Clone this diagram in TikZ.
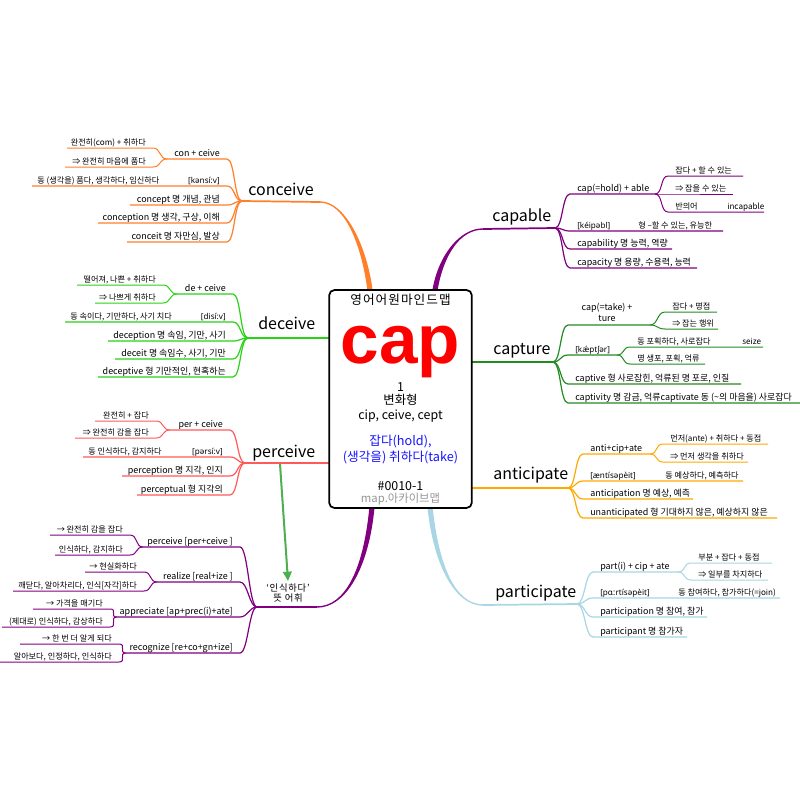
\documentclass[tikz,border=0pt]{standalone}
\usepackage{fontspec}
\setmainfont{Noto Sans CJK KR}
\newfontfamily\ipaf{Noto Sans}
\newfontfamily\capf{Liberation Sans}
\usetikzlibrary{calc,arrows.meta}
\definecolor{cOr}{RGB}{255,127,42}
\definecolor{cGr}{RGB}{40,210,20}
\definecolor{cRd}{RGB}{255,90,90}
\definecolor{cPu}{RGB}{128,0,128}
\definecolor{cDg}{RGB}{34,139,34}
\definecolor{cOy}{RGB}{255,168,0}
\definecolor{cLb}{RGB}{168,214,228}
\definecolor{cAr}{RGB}{76,175,80}
\definecolor{cBl}{RGB}{20,20,255}
\definecolor{cGy}{RGB}{150,150,150}
\tikzset{
 tA/.style={font=\fontsize{6.7}{7}\selectfont,inner sep=0pt},
 tB/.style={font=\fontsize{6.1}{6.5}\selectfont,inner sep=0pt},
 tM/.style={font=\fontsize{12}{14}\selectfont,inner sep=0pt,anchor=base west},
 tG/.style={font=\fontsize{7}{8}\selectfont\addfontfeature{LetterSpace=8},inner sep=0pt,anchor=base},
 tC/.style={font=\fontsize{9.3}{10}\selectfont,inner sep=0pt,anchor=base},
 sA/.style={line width=0.9pt},
 sB/.style={line width=0.75pt},
 mainln/.style={line width=1.3pt},
}
\newcommand\Lsub[8]{%
  \coordinate (#1n) at (#4,#3);
  \coordinate (#1f) at (#5,#3);
  \draw[#6] (#2) .. controls +(-8,0) and +(8,0) .. (#1n) -- (#1f);
  \node[#7,anchor=base east] (#1) at (#4-7,#3-2.5) {#8};}
\newcommand\Rsub[8]{%
  \coordinate (#1n) at (#4,#3);
  \coordinate (#1f) at (#5,#3);
  \draw[#6] (#2) .. controls +(8,0) and +(-8,0) .. (#1n) -- (#1f);
  \node[#7,anchor=base west] (#1) at (#4+7,#3-2.5) {#8};}
\newcommand\taper[7]{%
  \fill[#1] ($#2+(0,#6)$) .. controls ($#3+(0,#6)$) and ($#4+(2.6,0)$) .. ($#5+(2.6,0)$)
   -- ($#5+(-2.6,0)$) .. controls ($#4+(-2.6,0)$) and ($#3+(0,#7)$) .. ($#2+(0,#7)$) -- cycle;}
\begin{document}
\begin{tikzpicture}[x=0.75pt,y=-0.75pt]
\fill[white] (0,0) rectangle (800,800);
\useasboundingbox (0,0) rectangle (800,800);
\coordinate (boxW) at (330,0);
\coordinate (boxE) at (472,0);
% ---------- conceive
\coordinate (CF) at (242,201);
\Lsub{c1}{CF}{159}{227}{167}{cOr,sA}{tA}{con + ceive}
\Lsub{c1a}{c1f}{148}{153}{67}{cOr,sB}{tB}{완전히(com) + 취하다}
\Lsub{c1b}{c1f}{167}{153}{65}{cOr,sB}{tB}{⇒ 완전히 마음에 품다}
\Lsub{c2}{CF}{186}{227}{32}{cOr,sA}{tB}{\ipaf [kənsí:v]}
\node[tB,anchor=base west] (c2t) at (37,183.5) {동 (생각을) 품다, 생각하다, 임신하다};
\Lsub{c3}{CF}{205}{227}{130}{cOr,sA}{tA}{concept 명 개념, 관념}
\Lsub{c4}{CF}{223}{227}{98}{cOr,sA}{tA}{conception 명 생각, 구상, 이해}
\Lsub{c5}{CF}{242}{227}{127}{cOr,sA}{tA}{conceit 명 자만심, 발상}
\node[tM] (conceive) at (248,195.5) {conceive};
\coordinate (CE) at (320,202);
\coordinate (CB) at (370,290);
\draw[cOr,mainln] (CF) -- (CE);
\taper{cOr}{(CE)}{(345,202)}{(364,245)}{(CB)}{-0.7}{0.7}
% ---------- deceive
\coordinate (DF) at (248,338);
\Lsub{d1}{DF}{294}{233}{177}{cGr,sA}{tA}{de + ceive}
\Lsub{d1a}{d1f}{285}{163}{77}{cGr,sB}{tB}{떨어져, 나쁜 + 취하다}
\Lsub{d1b}{d1f}{303}{163}{95}{cGr,sB}{tB}{⇒ 나쁘게 취하다}
\Lsub{d2}{DF}{322}{233}{65}{cGr,sA}{tB}{\ipaf [disí:v]}
\node[tB,anchor=base west] (d2t) at (70,319.5) {동 속이다, 기만하다, 사기 치다};
\Lsub{d3}{DF}{341}{233}{108}{cGr,sA}{tA}{deception 명 속임, 기만, 사기}
\Lsub{d4}{DF}{359}{233}{115}{cGr,sA}{tA}{deceit 명 속임수, 사기, 기만}
\Lsub{d5}{DF}{377}{233}{98}{cGr,sA}{tA}{deceptive 형 기만적인, 현혹하는}
\node[tM] (deceive) at (258,329) {deceive};
\draw[cGr,mainln] (DF) -- (DF -| boxW);
% ---------- perceive
\coordinate (PF) at (245,463);
\Lsub{p1}{PF}{430}{230}{170}{cRd,sA}{tA}{per + ceive}
\Lsub{p1a}{p1f}{421}{156}{95}{cRd,sB}{tB}{완전히 + 잡다}
\Lsub{p1b}{p1f}{438}{156}{75}{cRd,sB}{tB}{⇒ 완전히 감을 잡다}
\Lsub{p2}{PF}{457}{230}{83}{cRd,sA}{tB}{\ipaf [pərsí:v]}
\node[tB,anchor=base west] (p2t) at (88,454.5) {동 인식하다, 감지하다};
\Lsub{p3}{PF}{476}{230}{122}{cRd,sA}{tA}{perception 명 지각, 인지}
\Lsub{p4}{PF}{495}{230}{137}{cRd,sA}{tA}{perceptual 형 지각의}
\node[tM] (perceive) at (252,457) {perceive};
\draw[cRd,mainln] (PF) -- (PF -| boxW);
% ---------- '인식하다' group
\coordinate (GF) at (257,607);
\Lsub{g1}{GF}{547}{240}{143}{cPu,sA}{tA}{perceive [per+ceive ]}
\Lsub{g1a}{g1f}{535}{130}{50}{cPu,sB}{tB}{→ 완전히 감을 잡다}
\Lsub{g1b}{g1f}{555}{130}{55}{cPu,sB}{tB}{인식하다, 감지하다}
\Lsub{g2}{GF}{582}{240}{157}{cPu,sA}{tA}{realize [real+ize ]}
\Lsub{g2a}{g2f}{572}{144}{85}{cPu,sB}{tB}{→ 현실화하다}
\Lsub{g2b}{g2f}{591}{144}{13}{cPu,sB}{tB}{깨닫다, 알아차리다, 인식[자각]하다}
\Lsub{g3}{GF}{617}{240}{117}{cPu,sA}{tA}{appreciate [ap+prec(i)+ate]}
\Lsub{g3a}{g3f}{609}{110}{33}{cPu,sB}{tB}{→ 가격을 매기다}
\Lsub{g3b}{g3f}{627}{110}{2}{cPu,sB}{tB}{(제대로) 인식하다, 감상하다}
\Lsub{g4}{GF}{653}{240}{126}{cPu,sA}{tA}{recognize [re+co+gn+ize]}
\Lsub{g4a}{g4f}{644}{119}{20}{cPu,sB}{tB}{→ 한 번 더 알게 되다}
\Lsub{g4b}{g4f}{662}{119}{0}{cPu,sB}{tB}{알아보다, 인정하다, 인식하다}
\node[tG] (ins1) at (288,591) {‘인식하다’};
\node[tG] (ins2) at (288,601.5) {뜻 어휘};
\coordinate (GE) at (317,607);
\coordinate (GB) at (372,507);
\draw[cPu,mainln] (GF) -- (GE);
\taper{cPu}{(GE)}{(345,607)}{(366,570)}{(GB)}{0.7}{-0.7}
\coordinate (arrS) at (280,464);
\coordinate (arrE) at (288,581);
\draw[cAr,line width=1.5pt,-{Triangle[length=7pt,width=6.5pt]}] (arrS) -- (arrE);
% ---------- capable
\coordinate (KF) at (555,228);
\Rsub{k1}{KF}{194}{570}{655}{cPu,sA}{tA}{cap(=hold) + able}
\Rsub{k1a}{k1f}{176}{668}{743}{cPu,sB}{tB}{잡다 + 할 수 있는}
\Rsub{k1b}{k1f}{194}{668}{733}{cPu,sB}{tB}{⇒ 잡을 수 있는}
\Rsub{k1c}{k1f}{212}{668}{764}{cPu,sB}{tB}{반의어}
\node[tB,anchor=base west] (k1ct) at (727,209.5) {incapable};
\Rsub{k2}{KF}{231}{570}{723}{cPu,sA}{tB}{\ipaf [kéipəbl]}
\node[tB,anchor=base west] (k2t) at (638,228.5) {형 –할 수 있는, 유능한};
\Rsub{k3}{KF}{249}{570}{672}{cPu,sA}{tA}{capability 명 능력, 역량}
\Rsub{k4}{KF}{268}{570}{697}{cPu,sA}{tA}{capacity 명 용량, 수용력, 능력}
\node[tM] (capable) at (492,221.5) {capable};
\coordinate (KE) at (483,229);
\coordinate (KB) at (435,290);
\draw[cPu,mainln] (KE) -- (KF);
\taper{cPu}{(KE)}{(460,229)}{(441,255)}{(KB)}{0.7}{-0.7}
% ---------- capture
\coordinate (TF) at (553,362);
\coordinate (t1n) at (568,325);
\coordinate (t1f) at (650,325);
\draw[cDg,sA] (TF) .. controls +(8,0) and +(-8,0) .. (t1n) -- (t1f);
\node[tA,anchor=base] (t1) at (607,310.5) {cap(=take) +};
\node[tA,anchor=base] (t1x) at (607,321) {ture};
\Rsub{t1a}{t1f}{312}{665}{717}{cDg,sB}{tB}{잡다 + 명접}
\Rsub{t1b}{t1f}{329}{665}{718}{cDg,sB}{tB}{⇒ 잡는 행위}
\Rsub{t2}{TF}{355}{568}{617}{cDg,sA}{tB}{\ipaf [kǽptʃər]}
\Rsub{t2a}{t2f}{347}{630}{763}{cDg,sB}{tB}{동 포획하다, 사로잡다}
\node[tB,anchor=base west] (t2at) at (742,344.5) {seize};
\Rsub{t2b}{t2f}{364}{630}{705}{cDg,sB}{tB}{명 생포, 포획, 억류}
\Rsub{t3}{TF}{384}{568}{741}{cDg,sA}{tA}{captive 형 사로잡힌, 억류된 명 포로, 인질}
\Rsub{t4}{TF}{403}{568}{800}{cDg,sA}{tA}{captivity 명 감금, 억류captivate 동 (\textasciitilde 의 마음을) 사로잡다}
\node[tM] (capture) at (493,354.5) {capture};
\draw[cDg,mainln] (TF -| boxE) -- (TF);
% ---------- anticipate
\coordinate (AF) at (568,488);
\Rsub{a1}{AF}{454}{583}{650}{cOy,sA}{tA}{anti+cip+ate}
\Rsub{a1a}{a1f}{444}{663}{768}{cOy,sB}{tB}{먼저(ante) + 취하다 + 동접}
\Rsub{a1b}{a1f}{462}{663}{748}{cOy,sB}{tB}{⇒ 먼저 생각을 취하다}
\Rsub{a2}{AF}{481}{583}{743}{cOy,sA}{tB}{\ipaf [æntísəpèit]}
\node[tB,anchor=base west] (a2t) at (665,478.5) {동 예상하다, 예측하다};
\Rsub{a3}{AF}{499}{583}{693}{cOy,sA}{tA}{anticipation 명 예상, 예측}
\Rsub{a4}{AF}{518}{583}{777}{cOy,sA}{tA}{unanticipated 형 기대하지 않은, 예상하지 않은}
\node[tM] (anticipate) at (493,479.5) {anticipate};
\draw[cOy,mainln] (AF -| boxE) -- (AF);
% ---------- participate
\coordinate (RF) at (577,604);
\Rsub{r1}{RF}{572}{593}{678}{cLb,sA}{tA}{part(i) + cip + ate}
\Rsub{r1a}{r1f}{563}{691}{772}{cLb,sB}{tB}{부분 + 잡다 + 동접}
\Rsub{r1b}{r1f}{580}{691}{768}{cLb,sB}{tB}{⇒ 일부를 차지하다}
\Rsub{r2}{RF}{598}{593}{780}{cLb,sA}{tB}{\ipaf [pɑːrtísəpèit]}
\node[tB,anchor=base west] (r2t) at (678,595.5) {동 참여하다, 참가하다(=join)};
\Rsub{r3}{RF}{617}{593}{707}{cLb,sA}{tA}{participation 명 참여, 참가}
\Rsub{r4}{RF}{637}{593}{687}{cLb,sA}{tA}{participant 명 참가자}
\node[tM] (participate) at (495,597.5) {participate};
\coordinate (RE) at (483,605);
\coordinate (RB) at (430,507);
\draw[cLb,mainln] (RE) -- (RF);
\taper{cLb}{(RE)}{(455,605)}{(436,565)}{(RB)}{-0.7}{0.7}
% ---------- central box
\node[draw=black,line width=1.3pt,rounded corners=4pt,fill=white,minimum width=107pt,minimum height=163.5pt,inner sep=0pt] (box) at (400.5,399) {};
\node[anchor=base,inner sep=0pt,font=\fontsize{9.5}{11}\selectfont\addfontfeature{LetterSpace=8}] (title) at (400.5,304) {영어어원마인드맵};
\node[anchor=base,inner sep=0pt,text=red,font=\fontsize{52}{52}\capf\bfseries] (cap) at (400.5,363) {cap};
\node[tC] (n1) at (400.5,391) {1};
\node[tC] (bv) at (400.5,404) {변화형};
\node[tC] (cip) at (400.5,419) {cip, ceive, cept};
\node[tC,text=cBl,font=\fontsize{9.5}{11}\selectfont] (m1) at (400.5,445) {잡다(hold),};
\node[tC,text=cBl,font=\fontsize{9.5}{11}\selectfont] (m2) at (400.5,461) {(생각을) 취하다(take)};
\node[tC] (num) at (400.5,490) {\#0010-1};
\node[tC,text=cGy,font=\fontsize{8.5}{10}\selectfont] (site) at (400.5,502) {map.아카이브맵};
\end{tikzpicture}
\end{document}
